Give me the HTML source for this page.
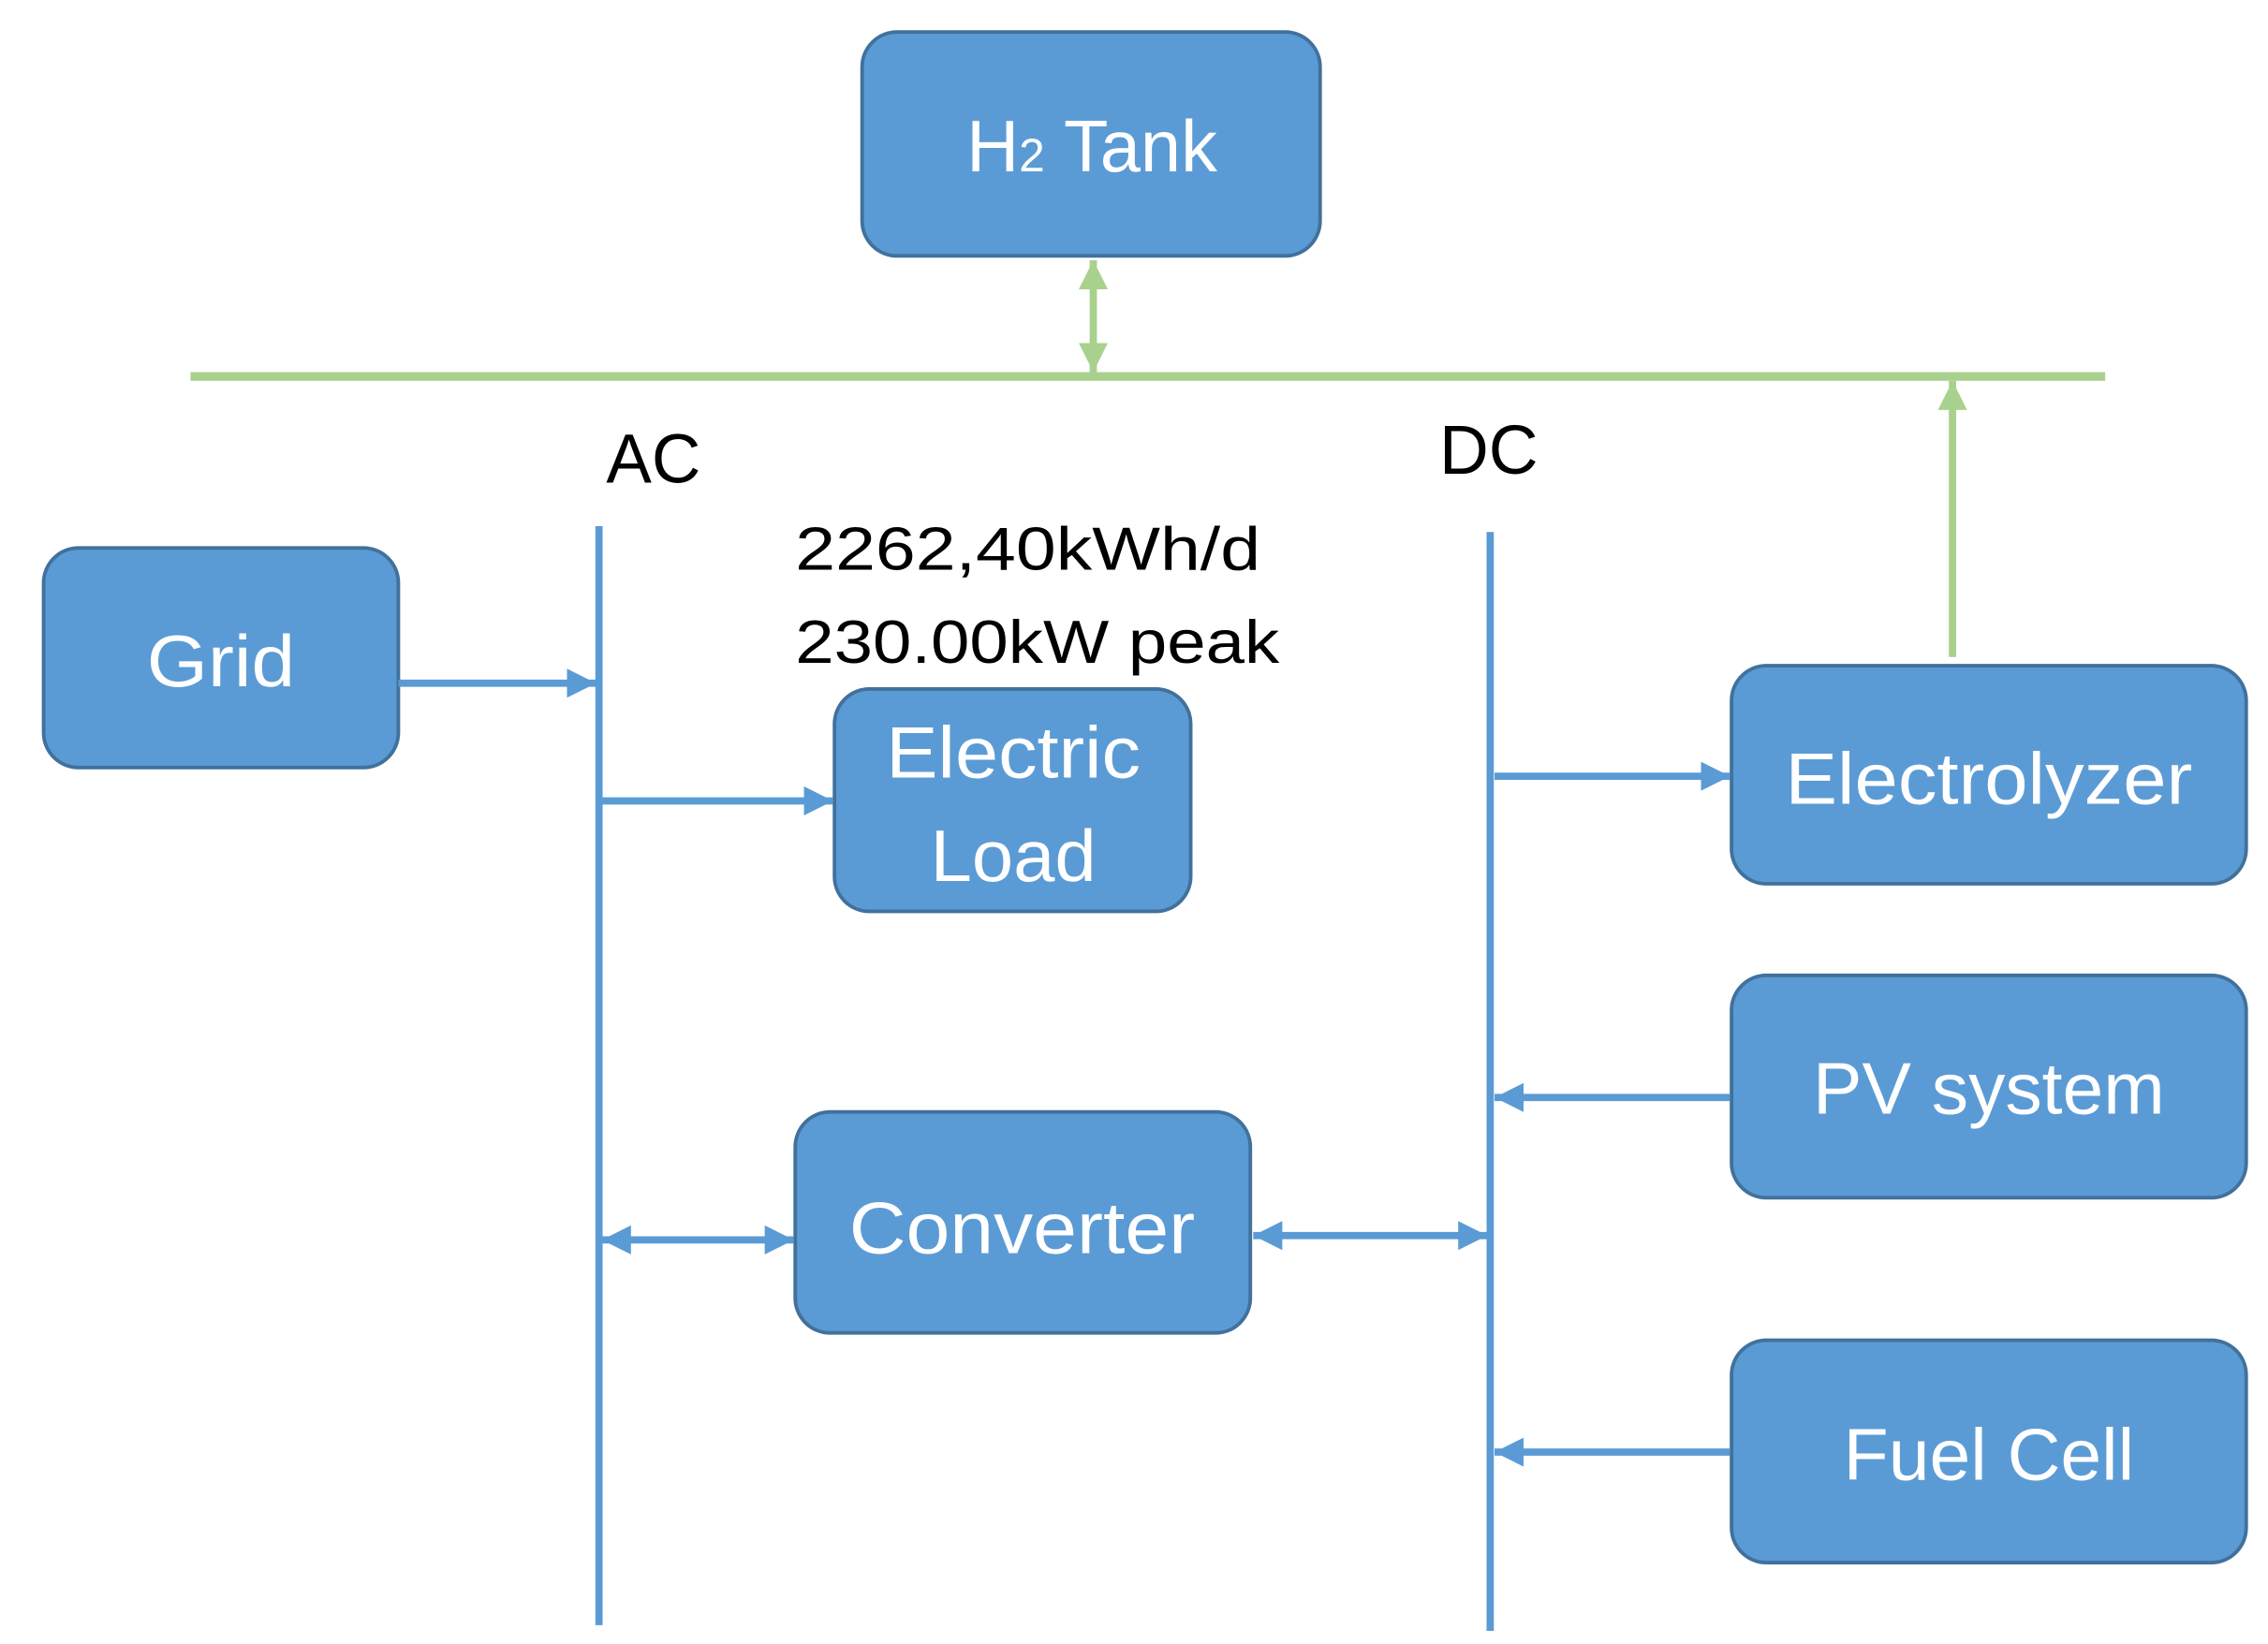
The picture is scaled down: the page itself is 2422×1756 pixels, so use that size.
<!DOCTYPE html>
<html><head><meta charset="utf-8"><style>html,body{margin:0;padding:0;background:#fff}svg{display:block}</style></head>
<body>
<svg width="2422" height="1756" viewBox="0 0 1560 1131" preserveAspectRatio="none" xmlns="http://www.w3.org/2000/svg" font-family="Liberation Sans, sans-serif">
<defs>
<marker id="bh" markerWidth="4" markerHeight="4" refX="4" refY="2" orient="auto-start-reverse" markerUnits="strokeWidth"><path d="M0,0 L4,2 L0,4 Z" fill="#5B9BD5"/></marker>
<marker id="gh" markerWidth="4" markerHeight="4" refX="4" refY="2" orient="auto-start-reverse" markerUnits="strokeWidth"><path d="M0,0 L4,2 L0,4 Z" fill="#A9D18E"/></marker>
</defs>
<g fill="#5B9BD5" stroke="#41719C" stroke-width="2.5">
<rect x="593" y="22" width="315" height="154" rx="24"/>
<rect x="30" y="377" width="244" height="151" rx="24"/>
<rect x="574" y="474" width="245" height="153" rx="24"/>
<rect x="547" y="765" width="313" height="152" rx="24"/>
<rect x="1191" y="458" width="354" height="150" rx="24"/>
<rect x="1191" y="671" width="354" height="153" rx="24"/>
<rect x="1191" y="922" width="354" height="153" rx="24"/>
</g>
<g stroke="#A9D18E" fill="none">
<line x1="131" y1="259" x2="1448" y2="259" stroke-width="6"/>
<line x1="752" y1="179" x2="752" y2="256" stroke-width="5" marker-start="url(#gh)" marker-end="url(#gh)"/>
<line x1="1343" y1="452" x2="1343" y2="262" stroke-width="5" marker-end="url(#gh)"/>
</g>
<g stroke="#5B9BD5" fill="none">
<line x1="412" y1="362" x2="412" y2="1118" stroke-width="5"/>
<line x1="1025" y1="366" x2="1025" y2="1122" stroke-width="5"/>
<line x1="274" y1="470" x2="410" y2="470" stroke-width="5" marker-end="url(#bh)"/>
<line x1="414" y1="551" x2="573" y2="551" stroke-width="5" marker-end="url(#bh)"/>
<line x1="414" y1="853" x2="546" y2="853" stroke-width="5" marker-start="url(#bh)" marker-end="url(#bh)"/>
<line x1="862" y1="850" x2="1023" y2="850" stroke-width="5" marker-start="url(#bh)" marker-end="url(#bh)"/>
<line x1="1028" y1="534" x2="1190" y2="534" stroke-width="5" marker-end="url(#bh)"/>
<line x1="1190" y1="755" x2="1028" y2="755" stroke-width="5" marker-end="url(#bh)"/>
<line x1="1190" y1="999" x2="1028" y2="999" stroke-width="5" marker-end="url(#bh)"/>
</g>
<g fill="#fff" font-size="50" text-anchor="middle">
<text x="751" y="118">H<tspan font-size="32">2</tspan> Tank</text>
<text x="152" y="472" textLength="102" lengthAdjust="spacingAndGlyphs">Grid</text>
<text x="697" y="535" textLength="175" lengthAdjust="spacingAndGlyphs">Electric</text>
<text x="697" y="606" textLength="114" lengthAdjust="spacingAndGlyphs">Load</text>
<text x="703" y="862" textLength="238" lengthAdjust="spacingAndGlyphs">Converter</text>
<text x="1368" y="553" textLength="280" lengthAdjust="spacingAndGlyphs">Electrolyzer</text>
<text x="1368" y="766" textLength="242" lengthAdjust="spacingAndGlyphs">PV system</text>
<text x="1368" y="1018" textLength="200" lengthAdjust="spacingAndGlyphs">Fuel Cell</text>
</g>
<g fill="#000">
<text x="417" y="332" font-size="48" textLength="65" lengthAdjust="spacingAndGlyphs">AC</text>
<text x="990" y="326" font-size="48" textLength="68" lengthAdjust="spacingAndGlyphs">DC</text>
<text x="547" y="392" font-size="42" textLength="320" lengthAdjust="spacingAndGlyphs">2262,40kWh/d</text>
<text x="547" y="456" font-size="42" textLength="333" lengthAdjust="spacingAndGlyphs">230.00kW peak</text>
</g>
</svg>
</body></html>
